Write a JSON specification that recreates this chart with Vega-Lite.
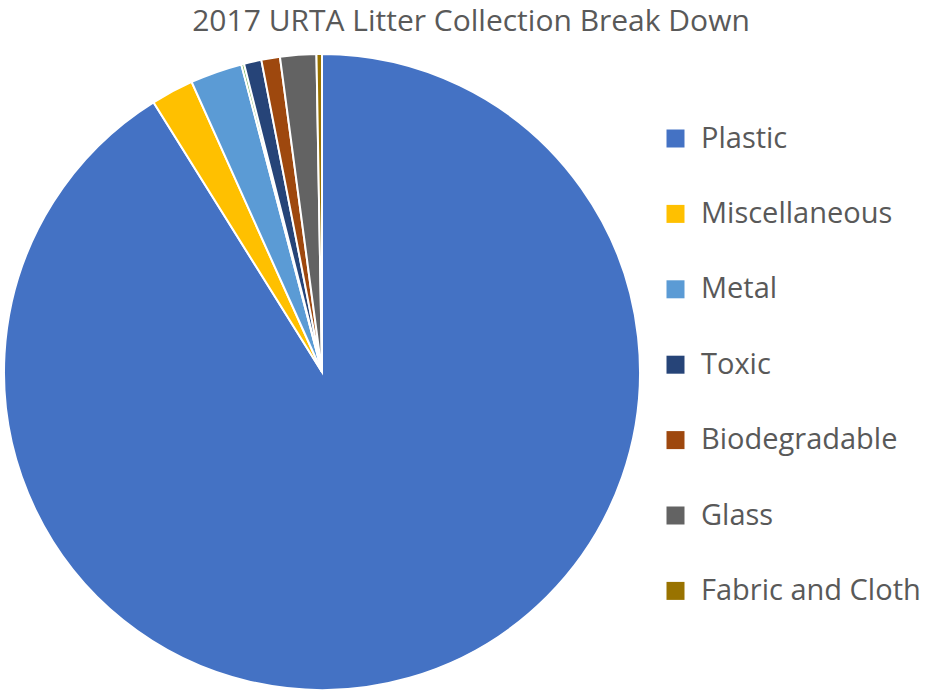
{
  "$schema": "https://vega.github.io/schema/vega-lite/v6.json",
  "autosize": "none",
  "width": 644,
  "height": 644,
  "padding": {"left": 0, "top": 50, "right": 288, "bottom": 0},
  "background": "white",
  "title": {
    "text": "2017 URTA Litter Collection Break Down",
    "font": "Open Sans",
    "fontSize": 30,
    "fontWeight": "normal",
    "color": "#595959",
    "anchor": "middle",
    "dx": 149,
    "offset": 13,
    "limit": 900
  },
  "data": {
    "values": [
      {"Category": "Plastic", "Share": 328.0, "Rank": 1},
      {"Category": "Miscellaneous", "Share": 7.8, "Rank": 2},
      {"Category": "Metal", "Share": 9.5, "Rank": 3},
      {"Category": "Other", "Share": 0.5, "Rank": 4},
      {"Category": "Toxic", "Share": 3.2, "Rank": 5},
      {"Category": "Biodegradable", "Share": 3.4, "Rank": 6},
      {"Category": "Glass", "Share": 6.6, "Rank": 7},
      {"Category": "Fabric and Cloth", "Share": 1.0, "Rank": 8}
    ]
  },
  "mark": {"type": "arc", "outerRadius": 318, "stroke": "white", "strokeWidth": 2},
  "encoding": {
    "theta": {"field": "Share", "type": "quantitative", "stack": true},
    "order": {"field": "Rank", "type": "quantitative"},
    "color": {
      "field": "Category",
      "type": "nominal",
      "sort": null,
      "scale": {
        "domain": ["Plastic", "Miscellaneous", "Metal", "Other", "Toxic", "Biodegradable", "Glass", "Fabric and Cloth"],
        "range": ["#4472C4", "#FFC000", "#5B9BD5", "#70AD47", "#264478", "#9E480E", "#636363", "#997300"]
      },
      "legend": {
        "values": ["Plastic", "Miscellaneous", "Metal", "Toxic", "Biodegradable", "Glass", "Fabric and Cloth"],
        "title": null,
        "orient": "none",
        "legendX": 661,
        "legendY": 74,
        "symbolType": "square",
        "symbolSize": 324,
        "symbolStrokeWidth": 0,
        "labelFont": "Open Sans",
        "labelFontSize": 29,
        "labelColor": "#595959",
        "labelOffset": 11,
        "rowPadding": 45.4,
        "labelLimit": 400
      }
    }
  },
  "config": {"view": {"stroke": null}}
}
